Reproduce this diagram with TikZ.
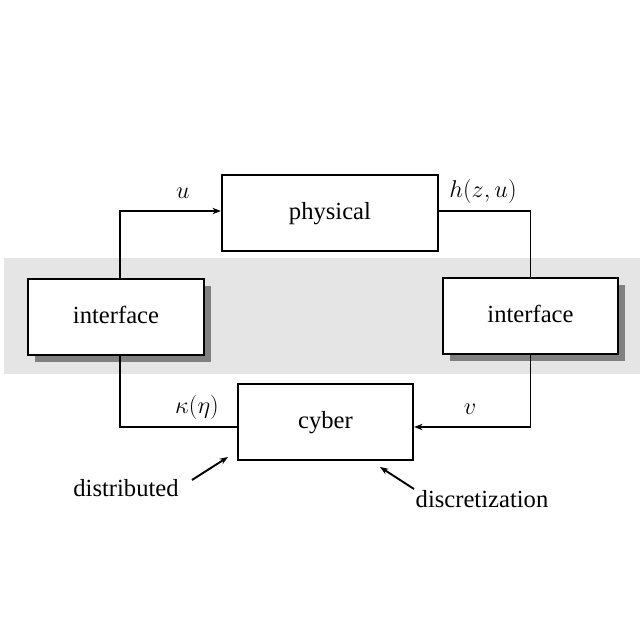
\documentclass[tikz,border=0pt]{standalone}
\usepackage{fontspec}
\setmainfont{Liberation Serif}
\usetikzlibrary{shadows,arrows.meta,calc}
\begin{document}
\begin{tikzpicture}[x=0.025cm,y=-0.025cm,
  every node/.style={font=\fontsize{17.5}{20}\selectfont},
  block/.style={draw, line width=1.5pt, fill=white, minimum height=1.9cm, inner sep=0pt, text depth=0.1cm},
  shadowblock/.style={block, drop shadow={shadow xshift=0.175cm, shadow yshift=-0.175cm, fill=black!50, opacity=1}},
  conn/.style={line width=1.35pt},
  arr/.style={conn, -{Stealth[length=6pt,width=4.5pt]}},
  lbl/.style={inner sep=1pt}
]
\useasboundingbox (0,0) rectangle (640,640);
\fill[black!10] (4,258) rectangle (640,374);

\node[block, minimum width=5.4cm] (phys) at (330,213) {physical};
\node[shadowblock, minimum width=4.4cm] (lint) at (116,317) {interface};
\node[shadowblock, minimum width=4.375cm] (rint) at (530.5,316) {interface};
\node[block, minimum width=4.375cm] (cyber) at (325.5,422) {cyber};

\coordinate (ux) at (120,0);
\coordinate (ly) at (0,427);
\coordinate (uy) at (0,211);

\draw[arr] (lint.north -| ux) |- (phys.west |- uy);
\draw[conn] (phys.east |- uy) -| (rint.north);
\draw[arr] (rint.south) |- (cyber.east |- ly);
\draw[conn] (lint.south -| ux) |- (cyber.west |- ly);

\node[lbl] (lu) at (183,193) {$u$};
\node[lbl] (lh) at (483,191) {$h(z,u)$};
\node[lbl] (lk) at (197,407) {$\kappa(\eta)$};
\node[lbl] (lv) at (470,409) {$v$};

\node[lbl] (dist) at (126,488) {distributed};
\node[lbl] (disc) at (482,499) {discretization};
\coordinate (d1) at (192,480);
\coordinate (d2) at (228,457);
\coordinate (e1) at (414,489);
\coordinate (e2) at (380,467);
\draw[arr] (d1) -- (d2);
\draw[arr] (e1) -- (e2);
\end{tikzpicture}
\end{document}
